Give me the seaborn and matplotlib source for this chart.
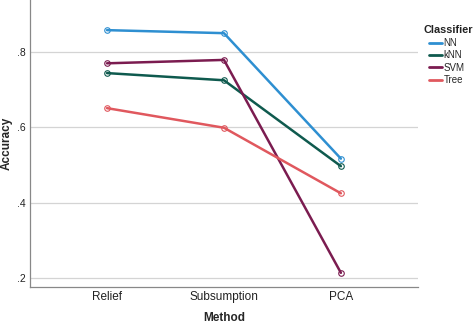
import matplotlib
matplotlib.use("Agg")
import matplotlib.pyplot as plt
import seaborn as sns
import pandas as pd
from matplotlib.lines import Line2D

methods = ["Relief", "Subsumption", "PCA"]
classifiers = ["NN", "kNN", "SVM", "Tree"]
nn = [0.858, 0.850, 0.517]
knn = [0.744, 0.725, 0.497]
svm = [0.770, 0.779, 0.214]
tree = [0.651, 0.599, 0.425]
colors = ["#2e8fd1", "#0f5a4e", "#7b1c50", "#e0585e"]
yticks = [0.2, 0.4, 0.6, 0.8]
yticklabels = [".2", ".4", ".6", ".8"]

rows = []
for name, vals in zip(classifiers, [nn, knn, svm, tree]):
    for i, (m, v) in enumerate(zip(methods, vals)):
        rows.append({"Method": m, "pos": i, "Accuracy": v, "Classifier": name})
df = pd.DataFrame(rows)

sns.set_style("white")
plt.rcParams["font.family"] = ["Liberation Sans", "DejaVu Sans"]
fig = plt.figure(figsize=(4.74, 3.23), dpi=100)
ax = fig.add_axes([0.063, 0.111, 0.819, 0.889])

for y in yticks:
    ax.axhline(y, color="#d4d4d4", lw=0.9, zorder=0)

sns.lineplot(data=df, x="pos", y="Accuracy", hue="Classifier",
             hue_order=classifiers, palette=colors, lw=1.8,
             marker="o", markersize=4, markerfacecolor="none",
             markeredgewidth=0.8, ax=ax, legend=False)
for line, c in zip(ax.get_lines()[len(yticks):], colors):
    line.set_markeredgecolor(c)

ax.set_xlim(-0.66, 2.66)
ax.set_ylim(0.176, 0.938)
ax.set_xticks(range(len(methods)))
ax.set_xticklabels(methods, fontsize=8.5, color="#222222")
ax.set_yticks(yticks)
ax.set_yticklabels(yticklabels, fontsize=7.5, color="#222222")
ax.tick_params(axis="both", length=0, pad=3)
ax.set_xlabel("Method", fontsize=8.5, fontweight="bold")
ax.xaxis.set_label_coords(0.5, -0.085)
ax.set_ylabel("Accuracy", fontsize=8.5, fontweight="bold")
ax.yaxis.set_label_coords(-0.045, 0.5)
for s in ["top", "right"]:
    ax.spines[s].set_visible(False)
for s in ["left", "bottom"]:
    ax.spines[s].set_color("#888888")
    ax.spines[s].set_linewidth(0.9)

fig.text(423 / 474, 1 - 30 / 323, "Classifier", fontsize=7.8, fontweight="bold",
         ha="left", va="center", color="#222222")
handles = [Line2D([0], [0], color=c, lw=2) for c in colors]
leg = fig.legend(handles, classifiers, frameon=False,
                 loc="upper left", bbox_to_anchor=(429 / 474, 1 - 38 / 323),
                 fontsize=7, handlelength=1.3, handletextpad=0.2,
                 labelspacing=0.25, borderaxespad=0, borderpad=0)

fig.savefig("out.png", dpi=100)
